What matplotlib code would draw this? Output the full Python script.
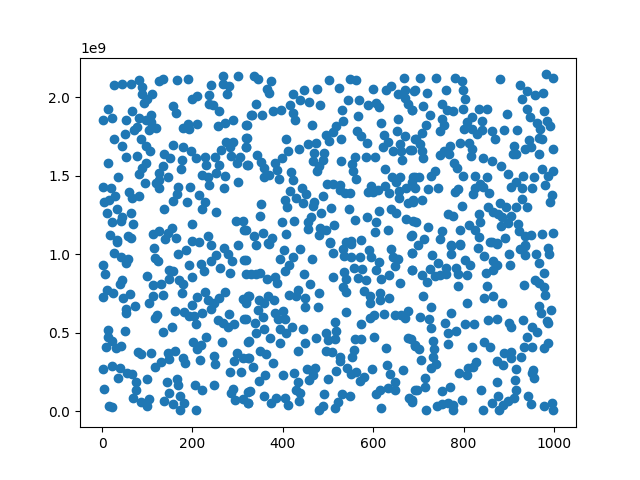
import numpy as np
import matplotlib
matplotlib.use("Agg")
import matplotlib.pyplot as plt

x_a = [27,45,64,82,89,88,110,100,93,126,135,165,191,267,301,241,267,280,237,276,209,200,237,245,258,158,163,12,1,23,67,52,82,108,97,108,120,104,78,71,50,27,43,86,97,106,158,178,191,193,209,256,272,289,319,330,319,274,289,282,263,319,180,197,137,150,176,208,228,251,285,306,298,320,14,54,78,97,89,134,174,230,258,82,36,126,145,125,95,119,126,222,234,252,272,237,270,300,1,19,60,29,81,67,169,195,166,214,4,16,156,187,228,221,253,32,136,10,64,45,41,21,69,200,296,311,315,154,125,113,140,145,163,17,32,58,64,199,234,215]
y_a = [2.077,2.088,2.088,2.109,2.066,2.024,2.024,1.992,1.965,2.102,2.115,2.109,2.115,2.134,2.134,2.077,2.088,2.071,2.013,2.020,2.009,1.992,1.960,1.954,1.912,1.943,1.903,1.924,1.854,1.871,1.912,1.859,1.871,1.890,1.854,1.844,1.808,1.795,1.812,1.791,1.770,1.734,1.689,1.734,1.689,1.657,1.695,1.806,1.829,1.797,1.829,1.816,1.837,1.859,1.823,1.886,1.744,1.717,1.717,1.685,1.668,1.681,1.681,1.657,1.638,1.615,1.604,1.611,1.621,1.621,1.625,1.621,1.579,1.566,1.579,1.617,1.625,1.583,1.553,1.562,1.541,1.568,1.566,1.509,1.490,1.515,1.490,1.473,1.452,1.452,1.420,1.505,1.494,1.515,1.498,1.441,1.420,1.458,1.426,1.420,1.399,1.371,1.371,1.356,1.430,1.426,1.384,1.377,1.331,1.346,1.339,1.331,1.335,1.286,1.271,1.288,1.286,1.261,1.265,1.240,1.214,1.204,1.191,1.191,1.210,1.210,1.155,1.165,1.151,1.127,1.098,1.134,1.102,1.123,1.091,1.119,1.102,1.085,1.117,1.081]

x_b = [34,27,41,58,54,1,7,114,117,123,168,185,193,219,225,242,252,269,278,287,261,282,315,319,241,300,147,157,149,99,198,171,178,112,130,45,39,10,2,25,47,61,113,134,176,104,228,211,273,259,234,248,311,322,319,200,242,72,52,52,161,182,193,204,222,280,121,117,256,268,278,293,315,208,154,134,50,12,14,23,8,41,30,230,202,220,211,265,322,80,87,109,161,145,149,130,117,178,183,217,247,251,299,293,311,326,3,21,39,56,66,36,100,75,283,307,165,143,167,205,247,222,5,75,290,147,285,324,69,103,172,137,295,311,322,86,100,156,182,173,208,16,23]
y_b = [1.078,1.011,0.983,0.968,0.941,0.930,0.873,1.042,0.979,0.958,1.000,1.030,0.934,0.936,0.892,0.958,0.994,1.042,1.000,0.955,0.915,0.883,0.966,0.877,1.061,1.057,0.902,0.894,0.845,0.860,0.852,0.835,0.807,0.803,0.809,0.835,0.809,0.775,0.729,0.750,0.724,0.746,0.733,0.739,0.750,0.686,0.760,0.729,0.756,0.724,0.707,0.690,0.712,0.733,0.690,0.676,0.650,0.669,0.648,0.623,0.637,0.633,0.606,0.606,0.623,0.618,0.612,0.591,0.580,0.559,0.534,0.555,0.587,0.553,0.534,0.502,0.510,0.517,0.474,0.447,0.411,0.415,0.400,0.474,0.438,0.421,0.394,0.438,0.442,0.379,0.364,0.368,0.383,0.368,0.330,0.315,0.283,0.336,0.309,0.326,0.351,0.298,0.368,0.322,0.336,0.336,0.266,0.288,0.273,0.245,0.237,0.209,0.203,0.182,0.247,0.247,0.203,0.182,0.167,0.167,0.167,0.131,0.139,0.131,0.139,0.118,0.114,0.124,0.086,0.076,0.097,0.067,0.071,0.076,0.050,0.057,0.033,0.046,0.050,0.008,0.008,0.033,0.025]

x_c = [337,345,374,365,370,422,447,475,502,524,548,563,600,629,639,668,655,671,693,670,677,687,340,439,458,482,417,544,568,588,607,612,531,331,353,378,396,422,427,566,655,617,533,518,464,321,565,574,586,653,624,496,511,503,529,321,407,455,474,435,411,319,633,671,692,659,622,644,681,662,343,352,398,382,470,491,489,466,529,560,583,605,664,322,359,387,418,481,476,554,555,627,358,370,391,422,563,642,659,688,651,498,511,527,442,416,526,537,548,596,588,600,611,627,635,657,673,692,657,489,452,404,430,444,409,469,467,688,677,352,506,546,613,640,651,485,463,349,586,673,688,398,424,455,560,607,455,513,483,496,481,605,633,684,356,407,376,368,337,319,504,574,551,540]
y_c = [2.134,2.119,2.102,2.052,2.030,2.024,2.045,2.056,2.109,2.062,2.115,2.109,2.056,2.049,2.071,2.126,2.020,2.049,2.045,1.999,1.960,1.922,1.960,1.986,1.971,1.954,1.954,1.982,1.982,1.950,1.967,1.939,1.922,1.886,1.890,1.912,1.922,1.901,1.859,1.880,1.865,1.840,1.850,1.816,1.827,1.823,1.784,1.753,1.712,1.784,1.759,1.759,1.780,1.723,1.734,1.744,1.738,1.706,1.712,1.674,1.659,1.681,1.717,1.753,1.738,1.702,1.681,1.659,1.668,1.659,1.636,1.589,1.611,1.585,1.647,1.647,1.604,1.594,1.592,1.621,1.621,1.621,1.600,1.566,1.547,1.536,1.526,1.562,1.532,1.575,1.530,1.543,1.490,1.505,1.483,1.473,1.483,1.494,1.494,1.490,1.462,1.445,1.445,1.441,1.420,1.403,1.409,1.388,1.388,1.435,1.394,1.399,1.409,1.435,1.388,1.405,1.420,1.420,1.360,1.371,1.382,1.346,1.356,1.324,1.303,1.335,1.310,1.346,1.324,1.318,1.293,1.286,1.278,1.286,1.261,1.261,1.240,1.244,1.235,1.223,1.214,1.204,1.210,1.204,1.218,1.204,1.159,1.187,1.165,1.155,1.123,1.144,1.155,1.119,1.134,1.127,1.102,1.074,1.117,1.155,1.081,1.091,1.085,1.081]

x_d = [341,370,402,438,422,393,464,413,405,319,504,511,534,551,535,551,570,590,596,613,640,644,655,649,685,685,557,575,607,535,511,447,330,350,341,365,383,387,539,566,585,617,635,659,461,533,540,433,413,430,480,450,580,594,614,592,614,636,326,319,347,367,380,359,449,478,540,624,602,592,648,676,662,670,345,356,319,339,400,382,404,389,421,444,393,407,359,341,372,515,573,518,496,500,515,474,559,574,602,677,692,325,394,450,433,350,363,496,509,557,628,322,378,333,526,554,526,453,472,467,459,518,542,597,631,666,550,563,579,571,638,648,400,424,361,347,433,500,328,430,439,492,531,548,614,633,649,607,692,679,685,359,374,385,404,411,435,324,522,515,489,481,617]
y_d = [1.061,1.068,1.030,1.036,0.983,0.972,0.972,0.930,0.892,0.966,1.072,1.011,1.036,1.068,0.987,0.983,0.983,1.030,0.983,0.951,1.036,0.983,0.968,0.924,1.011,0.898,0.915,0.909,0.902,0.888,0.852,0.871,0.877,0.881,0.871,0.839,0.852,0.818,0.839,0.849,0.835,0.845,0.866,0.818,0.809,0.788,0.756,0.775,0.743,0.733,0.750,0.718,0.765,0.735,0.754,0.690,0.707,0.724,0.733,0.701,0.707,0.733,0.707,0.686,0.661,0.661,0.629,0.618,0.612,0.591,0.612,0.637,0.612,0.591,0.644,0.601,0.584,0.563,0.640,0.623,0.584,0.587,0.538,0.523,0.521,0.500,0.521,0.500,0.468,0.565,0.553,0.510,0.495,0.453,0.457,0.468,0.459,0.461,0.474,0.464,0.415,0.447,0.432,0.432,0.383,0.383,0.362,0.383,0.375,0.389,0.400,0.336,0.305,0.283,0.347,0.343,0.322,0.269,0.273,0.230,0.199,0.256,0.277,0.269,0.294,0.262,0.237,0.247,0.220,0.192,0.235,0.184,0.230,0.241,0.230,0.192,0.184,0.203,0.129,0.135,0.118,0.110,0.107,0.097,0.135,0.146,0.135,0.107,0.135,0.082,0.057,0.097,0.054,0.082,0.082,0.040,0.061,0.050,0.057,0.018,0.029,0.004,0.018]

x_e = [703,739,781,796,881,982,997,925,941,958,975,930,691,719,762,798,803,753,711,685,764,776,799,834,851,941,979,897,946,725,753,818,807,841,962,984,716,757,748,709,801,819,840,829,864,890,919,969,991,869,694,945,966,974,792,812,771,703,685,818,757,709,912,936,949,997,748,768,910,917,968,816,711,844,864,884,779,786,974,999,736,729,799,825,852,899,932,956,988,917,836,692,702,685,905,929,952,980,722,744,788,781,825,844,821,856,995,991,930,707,688,881,895,917,940,797,855,866,877,886,906,765,777,835,836,813,694,722,884,899,921,923,753,793,825,748,685,713,834,892,936,949,973,999,862,875,773,792,936]
y_e = [2.126,2.126,2.126,2.102,2.119,2.147,2.126,2.077,2.039,2.018,2.028,1.988,2.039,2.030,2.045,2.045,1.992,1.956,1.943,1.918,1.918,1.914,1.929,1.924,1.929,1.924,1.912,1.897,1.876,1.886,1.865,1.876,1.844,1.848,1.837,1.850,1.823,1.827,1.787,1.776,1.801,1.801,1.791,1.765,1.787,1.791,1.795,1.801,1.818,1.734,1.738,1.731,1.744,1.734,1.712,1.710,1.689,1.702,1.668,1.674,1.659,1.659,1.689,1.674,1.681,1.674,1.632,1.638,1.642,1.642,1.642,1.625,1.611,1.611,1.594,1.564,1.585,1.553,1.543,1.530,1.530,1.500,1.500,1.500,1.490,1.509,1.500,1.490,1.498,1.462,1.447,1.490,1.490,1.462,1.430,1.424,1.420,1.439,1.416,1.420,1.413,1.394,1.420,1.426,1.382,1.388,1.377,1.335,1.352,1.346,1.335,1.329,1.303,1.299,1.303,1.307,1.299,1.271,1.257,1.240,1.244,1.254,1.244,1.257,1.204,1.187,1.204,1.172,1.180,1.197,1.193,1.151,1.148,1.155,1.155,1.098,1.123,1.098,1.108,1.102,1.119,1.123,1.127,1.134,1.081,1.074,1.060,1.066,1.060]

x_f = [699,687,731,772,792,772,831,858,875,846,900,925,937,936,960,988,990,803,814,744,866,875,903,968,686,725,762,783,866,849,979,707,736,747,762,787,808,719,787,853,934,958,966,979,981,711,845,866,886,807,966,727,993,971,772,703,724,855,875,932,901,904,985,988,760,803,824,729,784,766,952,963,941,683,733,845,858,765,819,692,701,735,934,951,986,977,733,889,906,927,906,875,888,705,827,740,727,821,810,790,807,917,954,951,957,715,873,914,771,714,697,753,839,916,877,943,912,685,796,862,899,949,977,995,742,753,766,777,776,718,844,879,888,999]
y_f = [1.061,1.011,0.994,1.051,1.057,1.000,1.042,1.078,1.068,0.987,1.004,1.036,1.051,0.994,1.000,1.042,1.004,0.962,0.930,0.941,0.958,0.930,0.934,0.941,0.898,0.905,0.915,0.913,0.898,0.883,0.883,0.866,0.862,0.866,0.877,0.871,0.866,0.820,0.799,0.796,0.803,0.835,0.818,0.792,0.743,0.733,0.724,0.733,0.686,0.686,0.669,0.661,0.644,0.623,0.623,0.601,0.587,0.580,0.587,0.580,0.563,0.538,0.574,0.559,0.559,0.553,0.553,0.527,0.510,0.495,0.538,0.506,0.474,0.459,0.447,0.438,0.406,0.425,0.406,0.421,0.394,0.394,0.411,0.406,0.432,0.400,0.347,0.372,0.375,0.343,0.336,0.319,0.294,0.326,0.315,0.298,0.273,0.283,0.277,0.241,0.230,0.266,0.262,0.241,0.209,0.213,0.184,0.199,0.154,0.156,0.135,0.129,0.135,0.135,0.097,0.093,0.086,0.071,0.071,0.050,0.065,0.044,0.033,0.050,0.029,0.046,0.050,0.040,0.008,0.006,0.006,0.008,0.040,0.006]

x_values = np.concatenate([x_a, x_b, x_c, x_d, x_e, x_f])
y_values = np.concatenate([y_a, y_b, y_c, y_d, y_e, y_f]) * 1e9

fig, ax = plt.subplots(figsize=(6.4, 4.8), dpi=100)
ax.scatter(x_values, y_values)
fig.savefig("out.png", dpi=100)
